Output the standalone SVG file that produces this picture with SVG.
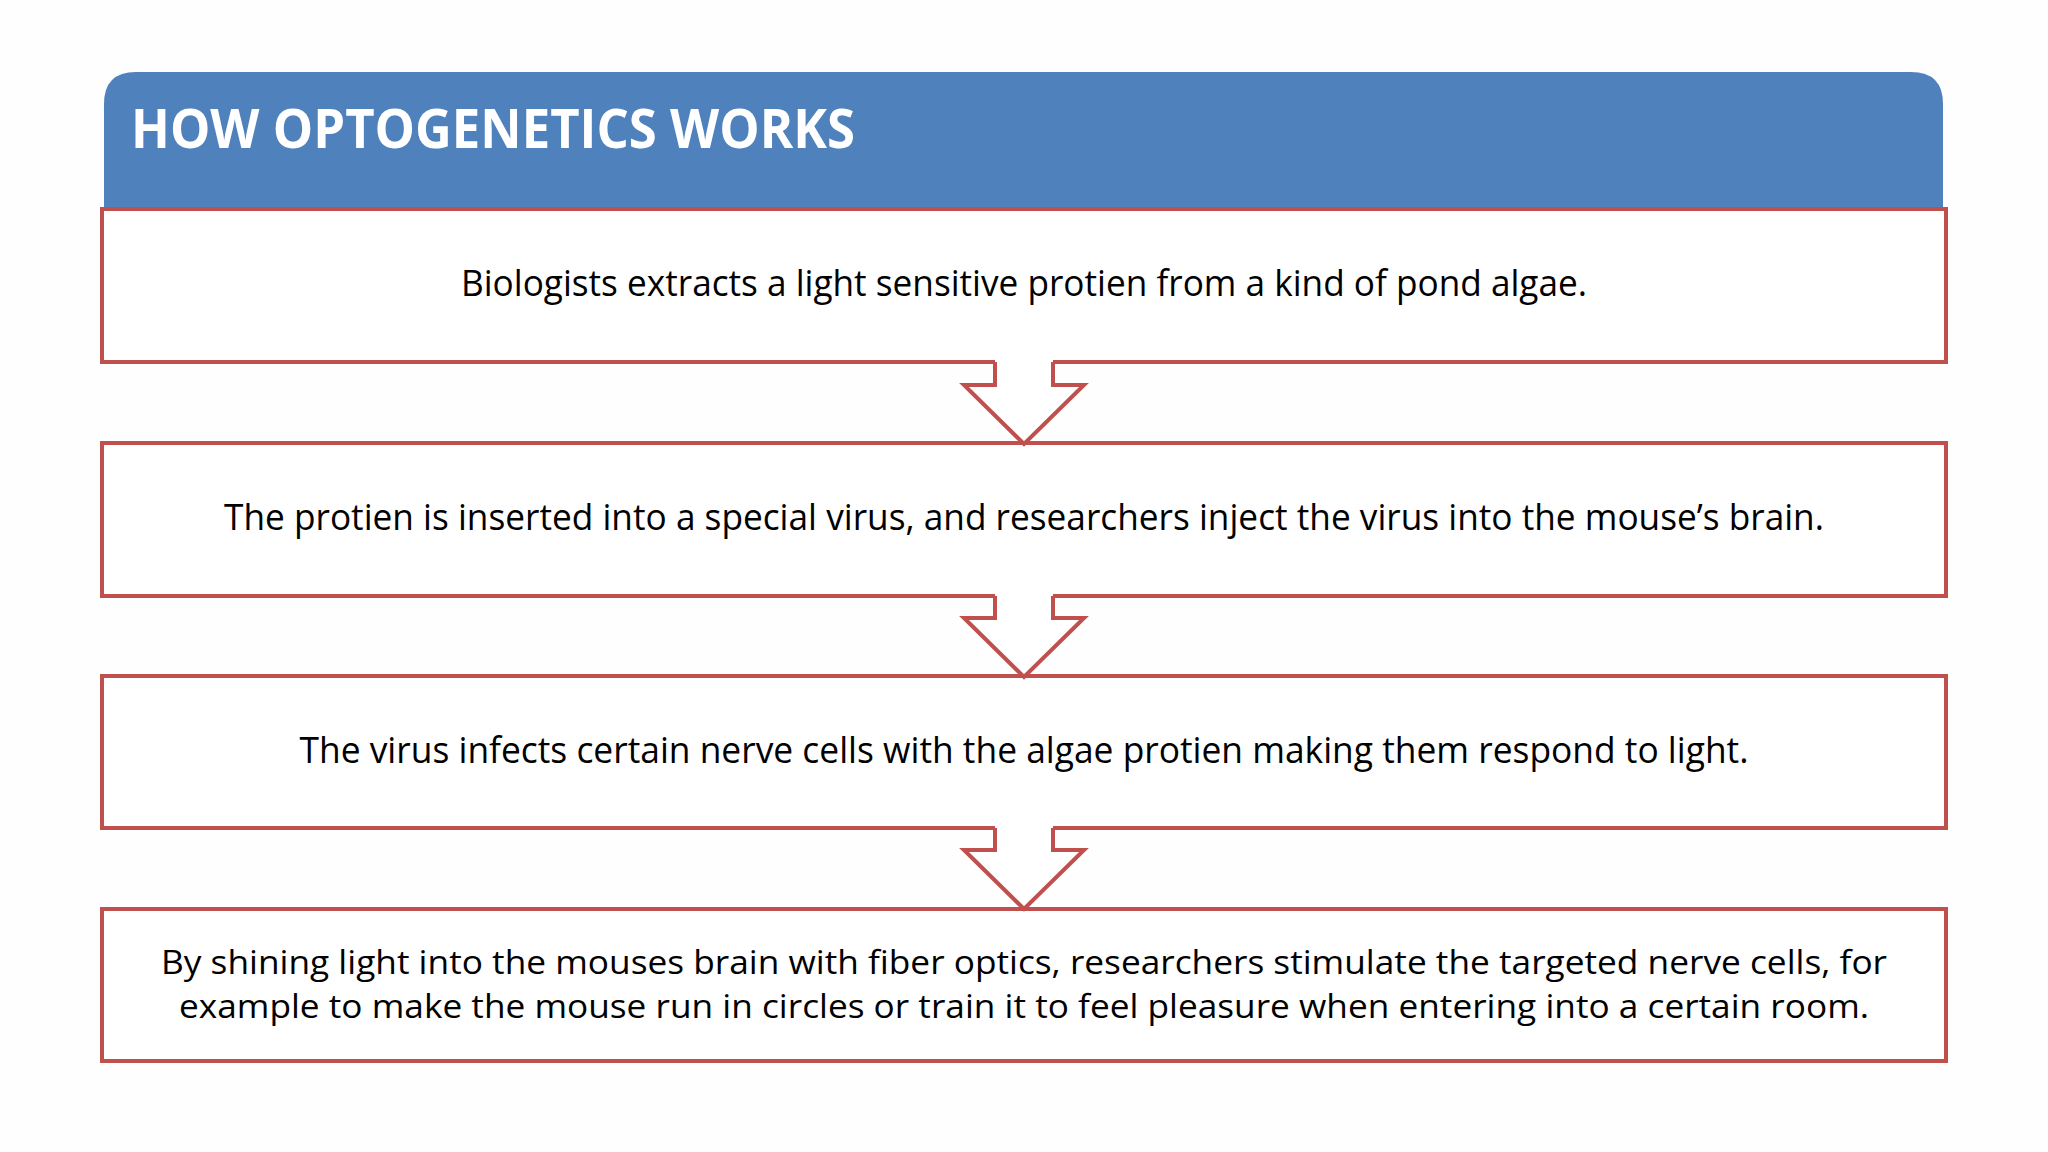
<svg xmlns="http://www.w3.org/2000/svg" width="2048" height="1152" viewBox="0 0 2048 1152">
<style>
.box{fill:#FFFFFF;stroke:#C0504D;stroke-width:4}
.arrfill{fill:#FFFFFF;stroke:none}
.arr{fill:none;stroke:#C0504D;stroke-width:4;stroke-linejoin:miter}
.t{font-family:"Open Sans","Liberation Sans",sans-serif;font-size:36px;fill:#000000;text-anchor:middle}
.t2{font-size:32px}
.title{font-family:"Open Sans","Liberation Sans",sans-serif;font-size:54px;font-weight:bold;fill:#FFFFFF}
</style>
<rect width="2048" height="1152" fill="#FEFEFE"/>
<g id="header">
<path d="M104,222 L104,104 Q104,72 136,72 L1911,72 Q1943,72 1943,104 L1943,222 Z" fill="#4F81BD"/>
<text class="title" x="131" y="148" textLength="724" lengthAdjust="spacingAndGlyphs">HOW OPTOGENETICS WORKS</text>
</g>
<g id="step1">
<rect class="box" x="102" y="209" width="1844" height="153"/>
<text class="t" x="1024" y="296" textLength="1126" lengthAdjust="spacingAndGlyphs">Biologists extracts a light sensitive protien from a kind of pond algae.</text>
</g>
<g id="step2">
<rect class="box" x="102" y="443" width="1844" height="153"/>
<text class="t" x="1024" y="530" textLength="1600" lengthAdjust="spacingAndGlyphs">The protien is inserted into a special virus, and researchers inject the virus into the mouse’s brain.</text>
</g>
<g id="step3">
<rect class="box" x="102" y="676" width="1844" height="152"/>
<text class="t" x="1024" y="763" textLength="1449" lengthAdjust="spacingAndGlyphs">The virus infects certain nerve cells with the algae protien making them respond to light.</text>
</g>
<g id="step4">
<rect class="box" x="102" y="909" width="1844" height="152"/>
<text class="t t2" x="1024" y="974" textLength="1726" lengthAdjust="spacingAndGlyphs">By shining light into the mouses brain with fiber optics, researchers stimulate the targeted nerve cells, for</text>
<text class="t t2" x="1024" y="1018" textLength="1690" lengthAdjust="spacingAndGlyphs">example to make the mouse run in circles or train it to feel pleasure when entering into a certain room.</text>
</g>
<g id="connectors">
<polygon class="arrfill" points="995,360 1053,360 1053,385 1084,385 1024,444 964,385 995,385"/>
<polyline class="arr" points="995,362 995,385 964,385 1024,444 1084,385 1053,385 1053,362"/>
<polygon class="arrfill" points="995,594 1053,594 1053,618 1084,618 1024,677 964,618 995,618"/>
<polyline class="arr" points="995,596 995,618 964,618 1024,677 1084,618 1053,618 1053,596"/>
<polygon class="arrfill" points="995,826 1053,826 1053,850 1084,850 1024,909 964,850 995,850"/>
<polyline class="arr" points="995,828 995,850 964,850 1024,909 1084,850 1053,850 1053,828"/>
</g>
</svg>
